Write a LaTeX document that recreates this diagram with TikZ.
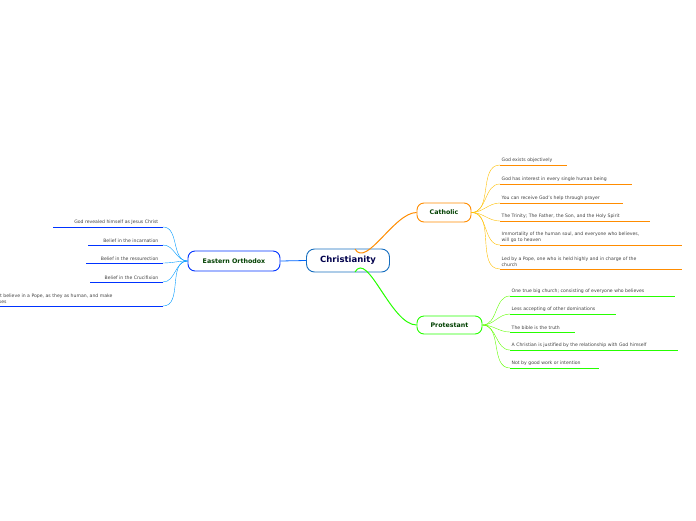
\documentclass[tikz,border=0pt]{standalone}
\usepackage{fontspec}
\setmainfont{DejaVu Sans}
\begin{document}
\begin{tikzpicture}[x=1pt,y=-1pt,
 leaf/.style={font=\fontsize{4.6}{5.6}\selectfont,text=black!75,inner sep=1.5pt,align=left},
 leafr/.style={leaf,align=right},
 branch/.style={draw,rounded corners=7pt,line width=0.9pt,font=\bfseries\fontsize{6.3}{7}\selectfont,text=green!25!black,inner sep=0pt},
 orange/.style={draw=orange!90!yellow},
 green/.style={draw=green!80!lime},
 blue/.style={draw=blue!80!cyan}]
\useasboundingbox (0,0) rectangle (696,520);
\node[draw=cyan!50!blue,fill=white,rounded corners=8pt,line width=0.9pt,minimum width=83pt,minimum height=23pt,font=\bfseries\fontsize{8.5}{9}\selectfont,text=blue!30!black] (c) at (348,260.5) {Christianity};
\node[branch,blue,minimum width=92pt,minimum height=20pt] (eo) at (234,261) {Eastern Orthodox};
\node[branch,orange,minimum width=54pt,minimum height=19pt] (ca) at (444,212.5) {Catholic};
\node[branch,green,minimum width=65pt,minimum height=18pt] (pr) at (449.5,325) {Protestant};
\draw[blue!60!cyan,line width=0.8pt] (c.west) -- (eo.east);
\draw[orange!90!yellow,line width=1pt] (355,249) to[out=-60,in=180,looseness=0.8] (ca.west);
\draw[orange!90!yellow,line width=1pt] (355,249) -- (ca.west) [draw=none];
\draw[green!80!lime,line width=1pt] (355,272) to[out=60,in=180,looseness=0.8] (pr.west);
% Catholic
\foreach \n/\y/\l/\t in {1/165/67/{God exists objectively},2/184/132/{God has interest in every single human being},3/203/123/{You can receive God's help through prayer},4/221/150/{The Trinity; The Father, the Son, and the Holy Spirit},5/245/182/{Immortality of the human soul, and everyone who believes,\\will go to heaven},6/269/182/{Led by a Pope, one who is held highly and in charge of the\\church}}{
 \coordinate (ca\n) at (500,\y);
 \draw[orange!90!yellow,line width=1pt] (ca\n) -- ++(\l,0);
 \node[leaf,anchor=south west] (cat\n) at (500,\y-1) {\t};
 \draw[orange!50!yellow,line width=0.4pt] (ca.east) to[out=0,in=180] (ca\n);
}
% Protestant
\foreach \n/\y/\l/\t in {1/296/165/{One true big church; consisting of everyone who believes},2/314/106/{Less accepting of other dominations},3/332/65/{The bible is the truth},4/350/168/{A Christian is justified by the relationship with God himself},5/368/89/{Not by good work or intention}}{
 \coordinate (pr\n) at (510,\y);
 \draw[green!80!lime,line width=1pt] (pr\n) -- ++(\l,0);
 \node[leaf,anchor=south west] (prt\n) at (510,\y-1) {\t};
 \draw[green!50!lime,line width=0.4pt] (pr.east) to[out=0,in=180] (pr\n);
}
% Eastern
\foreach \n/\y/\s/\t in {1/227/53/{God revealed himself as Jesus Christ},2/245/88/{Belief in the incarnation},3/263/86/{Belief in the ressurection},4/282/90/{Belief in the Crucifixion},5/306/0/{'t believe in a Pope, as they as human, and make\\\quad\ xes}}{
 \coordinate (eo\n) at (163,\y);
 \draw[blue!80!cyan,line width=1pt] (eo\n) -- (\s,\y);
 \draw[blue!40!cyan,line width=0.4pt] (eo.west) to[out=180,in=0] (eo\n);
}
\node[leafr,anchor=south east] (eot1) at (160,226) {God revealed himself as Jesus Christ};
\node[leafr,anchor=south east] (eot2) at (160,244) {Belief in the incarnation};
\node[leafr,anchor=south east] (eot3) at (160,262) {Belief in the ressurection};
\node[leafr,anchor=south east] (eot4) at (160,281) {Belief in the Crucifixion};
\node[leaf,anchor=south west] (eot5) at (-3,305) {'t believe in a Pope, as they as human, and make\\xes};
\end{tikzpicture}
\end{document}
